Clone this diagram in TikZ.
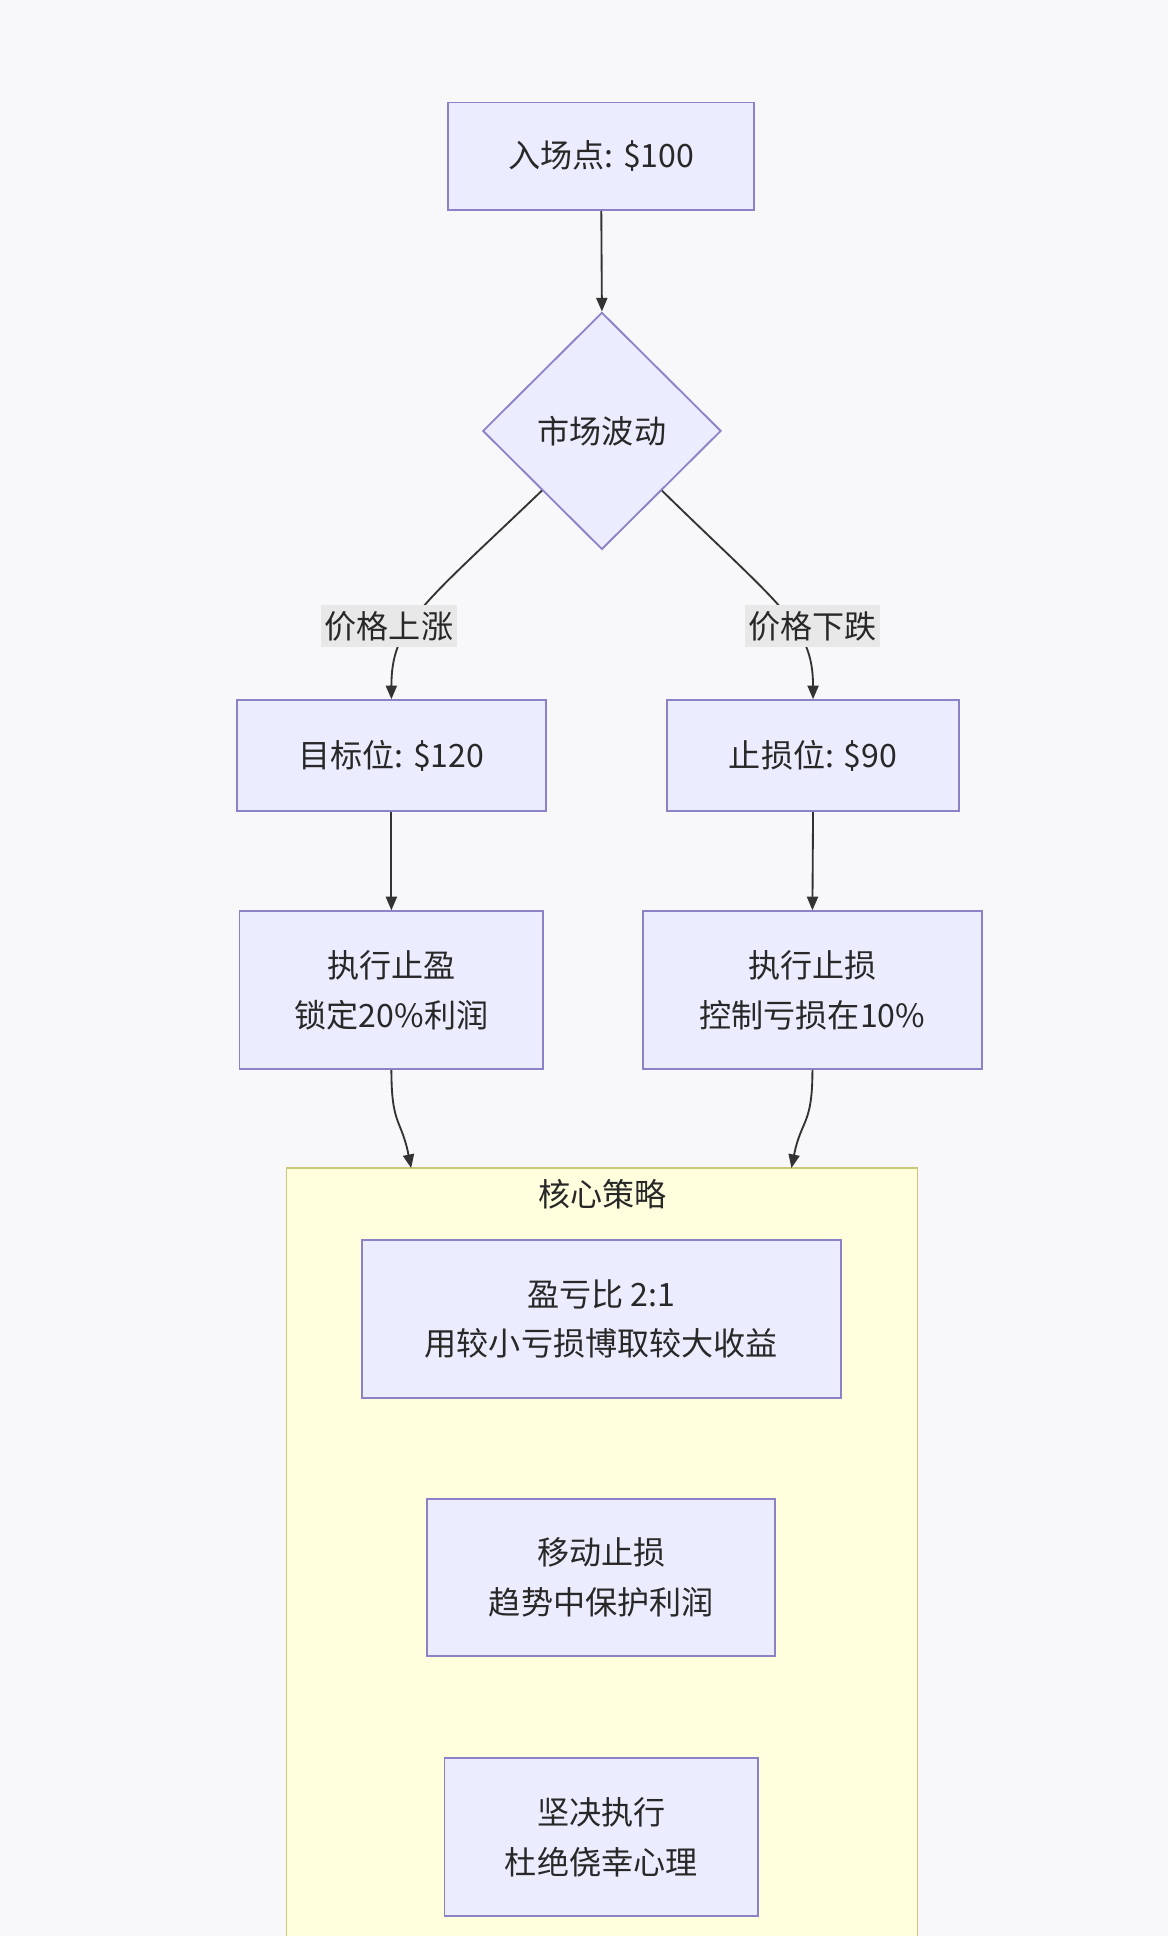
\documentclass[tikz,border=0pt]{standalone}
\usepackage{fontspec}
\setmainfont{Noto Sans CJK SC}
\usetikzlibrary{shapes.geometric,arrows.meta,calc}
\definecolor{bgc}{RGB}{248,248,250}
\definecolor{nodefill}{RGB}{236,236,255}
\definecolor{nodeline}{RGB}{140,130,200}
\definecolor{edgec}{RGB}{51,51,51}
\definecolor{txtc}{RGB}{40,40,40}
\definecolor{lblfill}{RGB}{232,232,232}
\definecolor{sgfill}{RGB}{255,255,222}
\definecolor{sgline}{RGB}{200,200,120}
\tikzset{
  boxnode/.style={draw=nodeline, fill=nodefill, line width=1.5pt, inner sep=0pt,
    align=center, text=txtc, font=\fontsize{26}{40}\selectfont},
  decision/.style={diamond, draw=nodeline, fill=nodefill, line width=1.5pt, inner sep=0pt,
    text=txtc, font=\fontsize{26}{40}\selectfont},
  edgelbl/.style={fill=lblfill, inner xsep=3pt, inner ysep=5pt, text=txtc,
    font=\fontsize{26}{32}\selectfont},
  edge/.style={draw=edgec, line width=1.5pt, -{Triangle[length=11pt,width=9pt]}},
  sgtitle/.style={text=txtc, font=\fontsize{26}{32}\selectfont}
}
\begin{document}
\begin{tikzpicture}[x=1pt,y=-1pt]
\fill[bgc] (0,0) rectangle (946,1568);
\useasboundingbox (0,0) rectangle (946,1568);
% subgraph
\fill[sgfill] (232,946) rectangle (743,1568);
\draw[sgline, line width=1.3pt] (232,1568) -- (232,946) -- (743,946) -- (743,1568);
\node[sgtitle] (sgt) at (488,967) {核心策略};
\coordinate (sgL) at (333,946);
\coordinate (sgR) at (641,946);
% nodes
\node[boxnode, minimum width=248pt, minimum height=87pt] (entry) at (487,126.5) {入场点: \$100};
\node[decision, minimum width=193pt, minimum height=192pt] (dia) at (487.5,349) {市场波动};
\node[boxnode, minimum width=250pt, minimum height=90pt] (tp) at (317,612) {目标位: \$120};
\node[boxnode, minimum width=237pt, minimum height=90pt] (sl) at (658.5,612) {止损位: \$90};
\node[boxnode, minimum width=246pt, minimum height=128pt] (tpx) at (317,802) {执行止盈\\锁定20\%利润};
\node[boxnode, minimum width=274pt, minimum height=128pt] (slx) at (658,802) {执行止损\\控制亏损在10\%};
\node[boxnode, minimum width=388pt, minimum height=128pt] (s1) at (487,1068) {盈亏比 2:1\\用较小亏损博取较大收益};
\node[boxnode, minimum width=282pt, minimum height=127pt] (s2) at (487,1277.5) {移动止损\\趋势中保护利润};
\node[boxnode, minimum width=254pt, minimum height=128pt] (s3) at (487,1488) {坚决执行\\杜绝侥幸心理};
% edges
\draw[edge] (entry.south) -- (dia.north);
\draw[edge] (dia.south west) .. controls ($(dia.south west)+(-97,93)$) and ($(tp.north)+(0,-60)$) .. (tp.north);
\draw[edge] (dia.south east) .. controls ($(dia.south east)+(95,93)$) and ($(sl.north)+(0,-60)$) .. (sl.north);
\draw[edge] (tp.south) -- (tpx.north);
\draw[edge] (sl.south) -- (slx.north);
\draw[edge] (tpx.south) .. controls ($(tpx.south)+(0,45)$) and ($(sgL)+(-8,-40)$) .. (sgL);
\draw[edge] (slx.south) .. controls ($(slx.south)+(0,45)$) and ($(sgR)+(8,-40)$) .. (sgR);
% edge labels
\node[edgelbl] (lup) at (315,507) {价格上涨};
\node[edgelbl] (ldown) at (658,507) {价格下跌};
\end{tikzpicture}
\end{document}
